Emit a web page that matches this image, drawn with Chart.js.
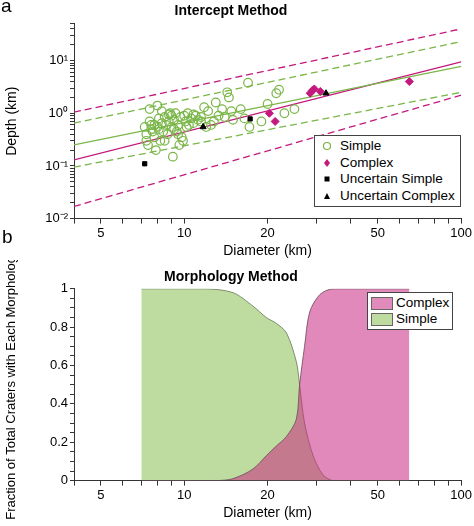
<!DOCTYPE html>
<html>
<head>
<meta charset="utf-8">
<script src="https://cdn.jsdelivr.net/npm/chart.js@4/dist/chart.umd.min.js"></script>
<style>
  body { margin: 0; width: 474px; height: 526px; background: #fff; font-family: "Liberation Sans", Arial, sans-serif; position: relative; overflow: hidden; }
  .panel { position: absolute; left: 0; width: 474px; }
  .lab { position: absolute; font-size: 19px; color: #000; }
  .legend { position: absolute; background: #fff; border: 1px solid #444; font-size: 13.5px; color: #000; padding: 2px 5px; line-height: 16.5px; }
  .legend div { display: flex; align-items: center; }
  .sym { width: 14px; display: inline-flex; justify-content: center; margin-right: 6px; }
  .sw { width: 20px; height: 11px; border: 1px solid #666; margin-right: 3px; }
</style>
</head>
<body>
<div class="panel" style="top:0;height:264px"><canvas id="top"></canvas></div>
<div class="panel" style="top:260px;height:266px"><canvas id="bottom"></canvas></div>
<div class="lab" style="left:1px;top:-5px">a</div>
<div class="lab" style="left:2px;top:226px">b</div>
<div class="legend" style="left:314px;top:135px">
  <div><span class="sym"><svg width="10" height="10"><circle cx="5" cy="5" r="3.5" fill="none" stroke="#7ab648" stroke-width="1.2"/></svg></span>Simple</div>
  <div><span class="sym"><svg width="10" height="10"><polygon points="5,1 8,5 5,9 2,5" fill="#c4197c"/></svg></span>Complex</div>
  <div><span class="sym"><svg width="10" height="10"><rect x="2.5" y="2.5" width="5" height="5" fill="#000"/></svg></span>Uncertain Simple</div>
  <div><span class="sym"><svg width="10" height="10"><polygon points="5,2 8,8 2,8" fill="#000"/></svg></span>Uncertain Complex</div>
</div>
<div class="legend" style="left:367px;top:292px;padding:2px 3px;line-height:16px">
  <div><span class="sw" style="background:#e18bbd"></span>Complex</div>
  <div><span class="sw" style="background:#bedca0"></span>Simple</div>
</div>
<script>
// Intercept method data (diameter km, depth km)
const simpleD = [7.2, 7.3, 7.4, 7.5, 7.5, 7.6, 7.7, 7.8, 7.8, 7.9, 8.0, 8.0, 8.1, 8.2, 8.3, 8.3, 8.4, 8.5, 8.6, 8.7, 8.8, 8.9, 9.0, 9.0, 9.1, 9.2, 9.3, 9.4, 9.5, 9.6, 9.7, 9.8, 9.9, 10.0, 10.1, 10.3, 10.4, 10.6, 10.8, 11.0, 11.2, 11.5, 11.8, 12.0, 12.2, 12.5, 12.8, 13.0, 13.3, 13.7, 14.0, 14.3, 14.5, 14.8, 15.0, 16.0, 16.5, 17.0, 17.2, 19.0, 20.0, 21.5, 22.0, 23.0, 25.0, 8.5, 9.5, 7.3, 8.8, 10.2, 7.6, 8.1, 9.2, 10.8, 11.5];
const simpleDepth = [0.55, 0.4, 0.25, 1.2, 0.7, 0.5, 0.45, 0.35, 0.6, 0.2, 1.4, 0.55, 0.5, 0.3, 1.1, 0.65, 0.45, 0.85, 0.6, 0.4, 0.7, 1.0, 0.55, 0.9, 0.15, 0.75, 1.0, 0.45, 0.6, 0.25, 0.85, 0.35, 0.3, 0.9, 0.7, 1.0, 0.6, 0.8, 0.65, 0.9, 0.75, 0.85, 1.3, 0.55, 1.1, 0.6, 0.7, 1.6, 0.9, 1.2, 0.85, 2.5, 2.0, 1.1, 0.75, 1.2, 0.8, 3.8, 0.55, 0.7, 1.5, 2.4, 2.8, 1.0, 1.2, 0.3, 0.4, 0.3, 0.95, 0.55, 0.6, 0.8, 0.5, 0.95, 0.7];
const complexD = [20.3, 21.3, 28.5, 29.0, 29.5, 31.0, 65.0];
const complexDepth = [1.0, 0.7, 2.4, 2.7, 2.9, 2.6, 4.0];
const uncSimpleD = [7.2, 17.3];
const uncSimpleDepth = [0.11, 0.78];
const uncComplexD = [11.7, 32.5];
const uncComplexDepth = [0.55, 2.4];

// Fit lines and bounds (endpoints at D = 4 and D = 100)
const fitD = [4, 100];
const simpleFit = [0.25, 7.8];
const simpleUpper = [0.65, 23];
const simpleLower = [0.095, 2.5];
const complexFit = [0.13, 9.5];
const complexUpper = [1.05, 40];
const complexLower = [0.017, 2.2];

// Morphology method fractions
const simpleFracD = [7, 12, 15, 17.7, 19.8, 21.5, 23.4, 25.4, 26.1, 27.2, 29.2, 31.7, 34.4, 40, 65];
const simpleFrac = [1, 1, 0.98, 0.91, 0.85, 0.82, 0.77, 0.62, 0.5, 0.3, 0.13, 0.03, 0, 0, 0];
const complexFracD = [7, 13, 15, 17.7, 19.8, 21.5, 23.4, 25.4, 26.1, 27.2, 28.4, 30.9, 34.4, 65];
const complexFrac = [0, 0, 0.01, 0.06, 0.13, 0.18, 0.23, 0.32, 0.5, 0.7, 0.88, 0.97, 1, 1];

const xTicks = [4, 5, 6, 7, 8, 9, 10, 20, 30, 40, 50, 60, 70, 80, 90, 100];
const xLabels = [5, 10, 20, 50, 100];
const yTicksTop = [0.01, 0.02, 0.03, 0.04, 0.05, 0.06, 0.07, 0.08, 0.09, 0.1, 0.2, 0.3, 0.4, 0.5, 0.6, 0.7, 0.8, 0.9, 1, 2, 3, 4, 5, 6, 7, 8, 9, 10, 20, 30, 40, 50];
const yLabelsTop = { 0.01: '10⁻²', 0.1: '10⁻¹', 1: '10⁰', 10: '10¹' };

const GREEN = '#7ab648';
const MAGENTA = '#c4197c';
const pts = (xs, ys) => xs.map((x, i) => ({ x: x, y: ys[i] }));

Chart.defaults.font.family = '"Liberation Sans", Arial, sans-serif';
Chart.defaults.color = '#000';
Chart.defaults.animation = false;

function xAxis() {
  return {
    type: 'logarithmic', min: 4, max: 100,
    afterBuildTicks: s => { s.ticks = xTicks.map(v => ({ value: v })); },
    ticks: { autoSkip: false, maxRotation: 0, font: { size: 13 }, padding: 2,
      callback: v => xLabels.includes(v) ? String(v) : '' },
    grid: { drawOnChartArea: false, tickLength: 5, color: '#333' },
    border: { color: '#333' },
    title: { display: true, text: 'Diameter (km)', font: { size: 14 }, padding: { top: 0 } }
  };
}

function line(label, ys, color, dashed) {
  return { label: label, data: pts(fitD, ys), showLine: true, pointRadius: 0,
    borderColor: color, borderWidth: 1.3, borderDash: dashed ? [7, 4] : [], order: 5 };
}

new Chart(document.getElementById('top'), {
  type: 'scatter',
  data: {
    datasets: [
      line('cu', complexUpper, MAGENTA, true),
      line('cl', complexLower, MAGENTA, true),
      line('su', simpleUpper, GREEN, true),
      line('sl', simpleLower, GREEN, true),
      line('sf', simpleFit, GREEN, false),
      line('cf', complexFit, MAGENTA, false),
      { label: 'Simple', data: pts(simpleD, simpleDepth), pointStyle: 'circle', pointRadius: 4.3,
        borderColor: GREEN, backgroundColor: 'rgba(0,0,0,0)', borderWidth: 1.2, order: 1 },
      { label: 'Complex', data: pts(complexD, complexDepth), pointStyle: 'rectRot', pointRadius: 4,
        borderColor: MAGENTA, backgroundColor: MAGENTA, order: 0 },
      { label: 'Uncertain Simple', data: pts(uncSimpleD, uncSimpleDepth), pointStyle: 'rect', pointRadius: 3,
        borderColor: '#000', backgroundColor: '#000', order: 0 },
      { label: 'Uncertain Complex', data: pts(uncComplexD, uncComplexDepth), pointStyle: 'triangle', pointRadius: 3.5,
        borderColor: '#000', backgroundColor: '#000', order: 0 }
    ]
  },
  options: {
    responsive: true, maintainAspectRatio: false,
    layout: { padding: { right: 12, left: 0, top: 0, bottom: 0 } },
    plugins: {
      legend: { display: false }, tooltip: { enabled: false },
      title: { display: true, text: 'Intercept Method', font: { size: 14, weight: 'bold' }, padding: { top: 3, bottom: 4 } }
    },
    scales: {
      x: xAxis(),
      y: {
        type: 'logarithmic', min: 0.01, max: 50,
        afterBuildTicks: s => { s.ticks = yTicksTop.map(v => ({ value: v })); },
        afterFit: s => { s.width = 74; },
        ticks: { autoSkip: false, font: { size: 13 }, padding: 2, callback: v => yLabelsTop[v] || '' },
        grid: { drawOnChartArea: false, tickLength: 4, color: '#333' },
        border: { color: '#333' },
        title: { display: true, text: 'Depth (km)', font: { size: 14 }, padding: { bottom: 0 } }
      }
    }
  }
});

new Chart(document.getElementById('bottom'), {
  type: 'scatter',
  data: {
    datasets: [
      { label: 'Complex', data: pts(complexFracD, complexFrac), showLine: true, fill: 'origin', pointRadius: 0,
        borderColor: '#6a4a55', borderWidth: 0.8, backgroundColor: 'rgba(200,40,130,0.55)', tension: 0.3, order: 0 },
      { label: 'Simple', data: pts(simpleFracD, simpleFrac), showLine: true, fill: 'origin', pointRadius: 0,
        borderColor: '#667755', borderWidth: 0.8, backgroundColor: '#bedca0', tension: 0.3, order: 1 }
    ]
  },
  options: {
    responsive: true, maintainAspectRatio: false,
    layout: { padding: { right: 12, left: 0, top: 0, bottom: 0 } },
    plugins: {
      legend: { display: false }, tooltip: { enabled: false },
      title: { display: true, text: 'Morphology Method', font: { size: 14, weight: 'bold' }, padding: { top: 9, bottom: 3 } }
    },
    scales: {
      x: xAxis(),
      y: {
        min: 0, max: 1,
        afterBuildTicks: s => { s.ticks = Array.from({ length: 21 }, (_, i) => ({ value: i / 20 })); },
        afterFit: s => { s.width = 74; },
        ticks: { autoSkip: false, font: { size: 13 }, padding: 2,
          callback: v => { const r = Math.round(v * 20); return r % 4 === 0 ? String(+(v.toFixed(1))) : ''; } },
        grid: { drawOnChartArea: false, tickLength: 4, color: '#333' },
        border: { color: '#333' },
        title: { display: true, text: 'Fraction of Total Craters with Each Morphology', font: { size: 13 }, padding: { bottom: 0 } }
      }
    }
  }
});
</script>
</body>
</html>
